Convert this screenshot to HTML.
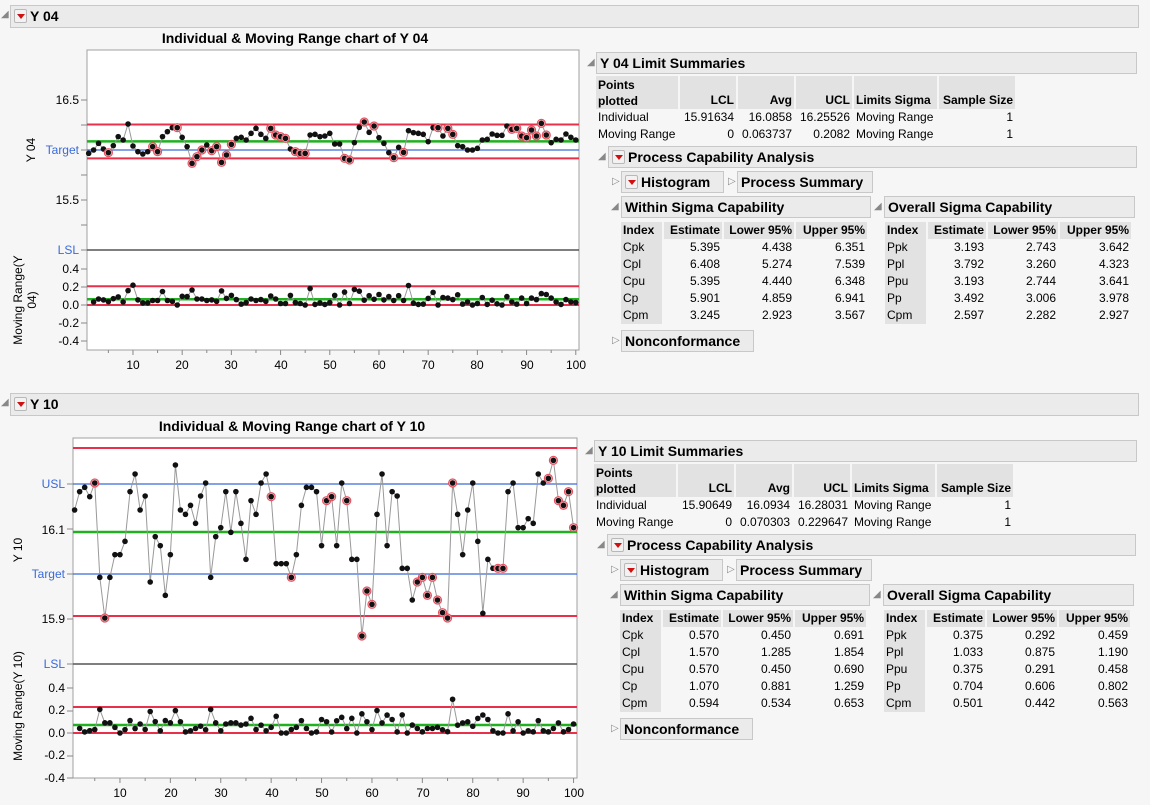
<!DOCTYPE html>
<html><head><meta charset="utf-8">
<style>
body{margin:0;background:#f6f6f6;font-family:"Liberation Sans","DejaVu Sans",sans-serif;}
#root{position:relative;width:1150px;height:805px;overflow:hidden;}
.abs{position:absolute;}
.hdr{position:absolute;background:#ebebeb;border:1px solid #c8c8c8;font-weight:bold;font-size:14px;color:#000;line-height:20px;box-sizing:border-box;padding-left:3px;white-space:nowrap}
.dd{display:inline-block;width:11px;height:12px;border:1px solid #b8b8b8;background:#f2f2f2;vertical-align:-2px;position:relative;margin-right:3px;border-radius:2px}
.dd:after{content:"";position:absolute;left:2px;top:4px;border-left:4px solid transparent;border-right:4px solid transparent;border-top:5px solid #d01010}
.arr{position:absolute;font-size:10px;color:#888;}
table{position:absolute;border-collapse:separate;border-spacing:2px 0;font-size:12px;}
td,th{padding:0 2px;height:17px;line-height:17px;white-space:nowrap}
th{background:#e2e2e2;font-weight:bold;text-align:right}
th.l{text-align:left}
td{text-align:right}
td.l{text-align:left}
td.g{background:#e2e2e2;text-align:left}
</style></head><body><div id="root">
<svg id="sv" class="abs" style="left:0;top:0" width="1150" height="805" xmlns="http://www.w3.org/2000/svg" font-family="Liberation Sans, sans-serif">
<rect x="87" y="50" width="492" height="300" fill="#fff" stroke="#a0a0a0"/>
<text x="295" y="43" text-anchor="middle" font-size="14" font-weight="bold">Individual &amp; Moving Range chart of Y 04</text>
<g font-size="12" text-anchor="end">
<text x="79" y="104">16.5</text>
<text x="79" y="154" fill="#3a6ad8">Target</text>
<text x="79" y="204">15.5</text>
<text x="79" y="254" fill="#3a6ad8">LSL</text>
<text x="79" y="273">0.4</text>
<text x="79" y="291">0.2</text>
<text x="79" y="309">0.0</text>
<text x="79" y="327">-0.2</text>
<text x="79" y="345">-0.4</text>
</g>
<text transform="translate(35,150) rotate(-90)" font-size="12" text-anchor="middle">Y 04</text>
<text transform="translate(22,300) rotate(-90)" font-size="12" text-anchor="middle">Moving Range(Y</text>
<text transform="translate(36,300) rotate(-90)" font-size="12" text-anchor="middle">04)</text>
<g font-size="12" text-anchor="middle">
<text x="133" y="369">10</text><text x="182" y="369">20</text><text x="231" y="369">30</text><text x="281" y="369">40</text><text x="330" y="369">50</text><text x="379" y="369">60</text><text x="428" y="369">70</text><text x="477" y="369">80</text><text x="527" y="369">90</text><text x="576" y="369">100</text>
</g>
<rect x="73" y="438" width="504" height="340" fill="#fff" stroke="#a0a0a0"/>
<text x="292" y="431" text-anchor="middle" font-size="14" font-weight="bold">Individual &amp; Moving Range chart of Y 10</text>
<g font-size="12" text-anchor="end">
<text x="65" y="488" fill="#3a6ad8">USL</text>
<text x="65" y="534">16.1</text>
<text x="65" y="578" fill="#3a6ad8">Target</text>
<text x="65" y="623">15.9</text>
<text x="65" y="668" fill="#3a6ad8">LSL</text>
<text x="65" y="692">0.4</text>
<text x="65" y="714">0.2</text>
<text x="65" y="737">0.0</text>
<text x="65" y="759">-0.2</text>
<text x="65" y="782">-0.4</text>
</g>
<text transform="translate(22,550) rotate(-90)" font-size="12" text-anchor="middle">Y 10</text>
<text transform="translate(22,706) rotate(-90)" font-size="12" text-anchor="middle">Moving Range(Y 10)</text>
<g font-size="12" text-anchor="middle">
<text x="120" y="797">10</text><text x="171" y="797">20</text><text x="221" y="797">30</text><text x="272" y="797">40</text><text x="322" y="797">50</text><text x="372" y="797">60</text><text x="423" y="797">70</text><text x="473" y="797">80</text><text x="523" y="797">90</text><text x="574" y="797">100</text>
</g>
<g id="dyn"></g>
</svg>

<div class="arr" style="left:1px;top:9px">&#9698;</div>
<div class="hdr" style="left:10px;top:5px;width:1129px;height:23px"><span class="dd"></span>Y 04</div>
<div class="arr" style="left:1px;top:397px">&#9698;</div>
<div class="hdr" style="left:10px;top:393px;width:1129px;height:23px"><span class="dd"></span>Y 10</div>

<div class="arr" style="left:587px;top:57px">&#9698;</div>
<div class="hdr" style="left:596px;top:52px;width:541px;height:22px">Y 04 Limit Summaries</div>
<table style="left:594px;top:76px">
<tr><th class="l" style="width:78px;height:33px;line-height:16px;vertical-align:bottom">Points<br>plotted</th><th style="width:52px;vertical-align:bottom">LCL</th><th style="width:52px;vertical-align:bottom">Avg</th><th style="width:52px;vertical-align:bottom">UCL</th><th class="l" style="width:79px;vertical-align:bottom">Limits Sigma</th><th style="width:72px;vertical-align:bottom">Sample Size</th></tr>
<tr><td class="l">Individual</td><td>15.91634</td><td>16.0858</td><td>16.25526</td><td class="l">Moving Range</td><td>1</td></tr>
<tr><td class="l">Moving Range</td><td>0</td><td>0.063737</td><td>0.2082</td><td class="l">Moving Range</td><td>1</td></tr>
</table>
<div class="arr" style="left:598px;top:151px">&#9698;</div>
<div class="hdr" style="left:608px;top:146px;width:529px;height:22px"><span class="dd"></span>Process Capability Analysis</div>
<div class="arr" style="left:612px;top:176px">&#9655;</div>
<div class="hdr" style="left:621px;top:171px;width:103px;height:22px"><span class="dd"></span>Histogram</div>
<div class="arr" style="left:728px;top:176px">&#9655;</div>
<div class="hdr" style="left:737px;top:171px;width:136px;height:22px">Process Summary</div>
<div class="arr" style="left:611px;top:201px">&#9698;</div>
<div class="hdr" style="left:621px;top:196px;width:250px;height:22px">Within Sigma Capability</div>
<div class="arr" style="left:874px;top:201px">&#9698;</div>
<div class="hdr" style="left:884px;top:196px;width:251px;height:22px">Overall Sigma Capability</div>
<table style="left:619px;top:222px">
<tr><th class="l" style="width:37px">Index</th><th style="width:54px">Estimate</th><th style="width:66px">Lower 95%</th><th style="width:67px">Upper 95%</th></tr>
<tr><td class="g">Cpk</td><td>5.395</td><td>4.438</td><td>6.351</td></tr>
<tr><td class="g">Cpl</td><td>6.408</td><td>5.274</td><td>7.539</td></tr>
<tr><td class="g">Cpu</td><td>5.395</td><td>4.440</td><td>6.348</td></tr>
<tr><td class="g">Cp</td><td>5.901</td><td>4.859</td><td>6.941</td></tr>
<tr><td class="g">Cpm</td><td>3.245</td><td>2.923</td><td>3.567</td></tr>
</table>
<table style="left:883px;top:222px">
<tr><th class="l" style="width:37px">Index</th><th style="width:54px">Estimate</th><th style="width:66px">Lower 95%</th><th style="width:67px">Upper 95%</th></tr>
<tr><td class="g">Ppk</td><td>3.193</td><td>2.743</td><td>3.642</td></tr>
<tr><td class="g">Ppl</td><td>3.792</td><td>3.260</td><td>4.323</td></tr>
<tr><td class="g">Ppu</td><td>3.193</td><td>2.744</td><td>3.641</td></tr>
<tr><td class="g">Pp</td><td>3.492</td><td>3.006</td><td>3.978</td></tr>
<tr><td class="g">Cpm</td><td>2.597</td><td>2.282</td><td>2.927</td></tr>
</table>
<div class="arr" style="left:612px;top:335px">&#9655;</div>
<div class="hdr" style="left:621px;top:330px;width:133px;height:22px">Nonconformance</div>

<div class="arr" style="left:585px;top:445px">&#9698;</div>
<div class="hdr" style="left:594px;top:440px;width:543px;height:22px">Y 10 Limit Summaries</div>
<table style="left:592px;top:464px">
<tr><th class="l" style="width:78px;height:33px;line-height:16px;vertical-align:bottom">Points<br>plotted</th><th style="width:52px;vertical-align:bottom">LCL</th><th style="width:52px;vertical-align:bottom">Avg</th><th style="width:52px;vertical-align:bottom">UCL</th><th class="l" style="width:79px;vertical-align:bottom">Limits Sigma</th><th style="width:72px;vertical-align:bottom">Sample Size</th></tr>
<tr><td class="l">Individual</td><td>15.90649</td><td>16.0934</td><td>16.28031</td><td class="l">Moving Range</td><td>1</td></tr>
<tr><td class="l">Moving Range</td><td>0</td><td>0.070303</td><td>0.229647</td><td class="l">Moving Range</td><td>1</td></tr>
</table>
<div class="arr" style="left:597px;top:539px">&#9698;</div>
<div class="hdr" style="left:607px;top:534px;width:529px;height:22px"><span class="dd"></span>Process Capability Analysis</div>
<div class="arr" style="left:611px;top:564px">&#9655;</div>
<div class="hdr" style="left:620px;top:559px;width:103px;height:22px"><span class="dd"></span>Histogram</div>
<div class="arr" style="left:727px;top:564px">&#9655;</div>
<div class="hdr" style="left:736px;top:559px;width:136px;height:22px">Process Summary</div>
<div class="arr" style="left:610px;top:589px">&#9698;</div>
<div class="hdr" style="left:620px;top:584px;width:250px;height:22px">Within Sigma Capability</div>
<div class="arr" style="left:873px;top:589px">&#9698;</div>
<div class="hdr" style="left:883px;top:584px;width:251px;height:22px">Overall Sigma Capability</div>
<table style="left:618px;top:610px">
<tr><th class="l" style="width:37px">Index</th><th style="width:54px">Estimate</th><th style="width:66px">Lower 95%</th><th style="width:67px">Upper 95%</th></tr>
<tr><td class="g">Cpk</td><td>0.570</td><td>0.450</td><td>0.691</td></tr>
<tr><td class="g">Cpl</td><td>1.570</td><td>1.285</td><td>1.854</td></tr>
<tr><td class="g">Cpu</td><td>0.570</td><td>0.450</td><td>0.690</td></tr>
<tr><td class="g">Cp</td><td>1.070</td><td>0.881</td><td>1.259</td></tr>
<tr><td class="g">Cpm</td><td>0.594</td><td>0.534</td><td>0.653</td></tr>
</table>
<table style="left:882px;top:610px">
<tr><th class="l" style="width:37px">Index</th><th style="width:54px">Estimate</th><th style="width:66px">Lower 95%</th><th style="width:67px">Upper 95%</th></tr>
<tr><td class="g">Ppk</td><td>0.375</td><td>0.292</td><td>0.459</td></tr>
<tr><td class="g">Ppl</td><td>1.033</td><td>0.875</td><td>1.190</td></tr>
<tr><td class="g">Ppu</td><td>0.375</td><td>0.291</td><td>0.458</td></tr>
<tr><td class="g">Pp</td><td>0.704</td><td>0.606</td><td>0.802</td></tr>
<tr><td class="g">Cpm</td><td>0.501</td><td>0.442</td><td>0.563</td></tr>
</table>
<div class="arr" style="left:611px;top:723px">&#9655;</div>
<div class="hdr" style="left:620px;top:718px;width:133px;height:22px">Nonconformance</div>
</div>
<script>
var NS="http://www.w3.org/2000/svg",g=document.getElementById("dyn");
function el(t,a){var e=document.createElementNS(NS,t);for(var k in a)e.setAttribute(k,a[k]);g.appendChild(e);return e;}
function line(x1,y1,x2,y2,c,w){el("line",{x1:x1,y1:y1,x2:x2,y2:y2,stroke:c,"stroke-width":w});}
var BL="#3a6ad8",RD="#e8304a",GR="#20b020";
function chart(o){
  o.blue.forEach(function(y){line(o.x0,y,o.x1,y,BL,1.2);});
  line(o.x0,o.sep,o.x1,o.sep,"#555",1.5);
  line(o.x0,o.ucl,o.x1,o.ucl,RD,2);line(o.x0,o.lcl,o.x1,o.lcl,RD,2);line(o.x0,o.avg,o.x1,o.avg,GR,2.5);
  line(o.x0,o.mu,o.x1,o.mu,RD,2);line(o.x0,o.m0,o.x1,o.m0,RD,2);line(o.x0,o.ma,o.x1,o.ma,GR,2.5);
  o.yt.forEach(function(y){line(o.x0-6,y,o.x0,y,"#888",1);});
  for(var i=5;i<=100;i+=5){var x=o.xf(i);line(x,o.bot,x,o.bot+(i%10?3:5),"#888",1);}
  var ys=o.ys.map(function(z){return o.yoff+z/3;});
  var pts=ys.map(function(y,i){return o.xf(i+1)+","+y;}).join(" ");
  el("polyline",{points:pts,fill:"none",stroke:"#999","stroke-width":1});
  var mr=[];for(var i=1;i<ys.length;i++){mr.push(Math.abs(ys[i]-ys[i-1])/o.upp);}
  var mp=mr.map(function(v,i){return o.xf(i+2)+","+(o.m0-v*o.mpp);}).join(" ");
  el("polyline",{points:mp,fill:"none",stroke:"#999","stroke-width":1});
  ys.forEach(function(y,i){var x=o.xf(i+1);if(o.c.indexOf(i+1)>=0)el("circle",{cx:x,cy:y,r:4,fill:"#f8c8cc",stroke:"#e85060","stroke-width":1.2});el("circle",{cx:x,cy:y,r:2.8,fill:"#111"});});
  mr.forEach(function(v,i){el("circle",{cx:o.xf(i+2),cy:o.m0-v*o.mpp,r:2.8,fill:"#111"});});
}
var y04=[460,450,430,447,458,437,410,420,372,438,455,462,455,440,455,410,395,383,383,412,440,490,470,450,435,452,440,487,465,433,415,412,420,400,385,403,415,385,405,410,415,447,455,460,460,405,403,410,408,400,432,432,475,480,428,382,366,397,378,413,430,458,473,442,457,392,398,400,403,425,383,383,408,385,403,437,440,450,450,445,420,418,402,406,406,378,388,385,408,413,390,408,370,405,428,418,420,402,412,420];
chart({x0:87,x1:579,bot:350,sep:250,blue:[150],ucl:124.5,avg:141.4,lcl:158.4,mu:286.3,ma:299.3,m0:305,
 yt:[100,125,150,175,200,225,250,269,287,305,323,341],xf:function(i){return 88.7+(i-1)*4.92;},ys:y04,yoff:0,upp:100,mpp:90,
 c:[5,14,15,19,22,23,24,26,27,28,29,30,38,39,40,41,43,44,45,53,54,57,59,63,65,72,74,75,87,88,89,90,91,92,93,94]});
var y10=[360,305,292,320,279,562,684,562,494,494,454,305,252,360,318,576,440,467,616,494,225,360,373,346,400,318,279,562,440,413,305,427,305,400,508,332,373,279,252,320,521,521,521,562,494,346,292,292,305,467,332,320,467,279,332,508,508,738,603,643,373,252,467,305,318,535,535,630,576,562,616,562,630,668,684,279,373,494,360,279,454,670,508,535,535,535,305,279,413,413,386,400,252,279,265,211,332,346,305,413];
chart({x0:73,x1:577,bot:778,sep:664,blue:[484,574],ucl:448,avg:532,lcl:616,mu:707,ma:725,m0:733,
 yt:[484,529,574,619,664,688,711,733,756,778],xf:function(i){return 74.6+(i-1)*5.04;},ys:y10,yoff:390,upp:450,mpp:112.5,
 c:[5,7,40,44,51,52,55,58,59,60,69,70,71,72,73,74,75,76,85,86,95,96,97,98,99,100]});
</script>
</body></html>
